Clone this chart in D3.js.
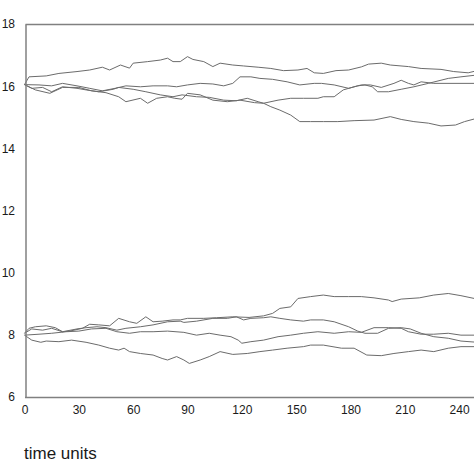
<!DOCTYPE html>
<html><head><meta charset="utf-8">
<script src="https://cdn.jsdelivr.net/npm/d3@7"></script>
<style>html,body{margin:0;padding:0;background:#fff;overflow:hidden}svg{display:block}</style>
</head><body>
<svg id="c" width="474" height="474"></svg>
<script>
// ---- data ----
const xTicks = [0,30,60,90,120,150,180,210,240];
const yTicks = [6,8,10,12,14,16,18];
const xLabel = "time units";

const upperA_t = [0,2.5,12,19,29,36,43,47,53,58,60,68,75,79,82,86,90,93,99,104,108,115,121,129,136,143,151,156,160,165,172,179,186,190,197,202,212,219,230,237,245,250];
const upperA_v = [16.05,16.3,16.33,16.41,16.47,16.52,16.61,16.52,16.68,16.58,16.74,16.79,16.84,16.9,16.79,16.79,16.95,16.86,16.79,16.63,16.74,16.68,16.65,16.61,16.57,16.5,16.52,16.57,16.43,16.41,16.5,16.52,16.62,16.71,16.74,16.68,16.63,16.57,16.54,16.47,16.43,16.5];

const upperB_t = [0,8,15,21,29,36,43,50,56,64,71,79,84,90,97,104,110,115,119,125,130,137,145,152,160,164,171,179,184,188,192,195,201,208,215,223,234,241,250];
const upperB_v = [16.05,16.04,16.01,16.09,16.01,15.93,15.85,15.93,16.01,15.98,16.01,16.01,15.98,16.04,16.09,16.07,16.01,16.09,16.3,16.3,16.25,16.22,16.14,16.04,16.09,16.09,16.04,15.93,16.01,16.04,15.98,15.82,15.82,15.9,15.98,16.09,16.25,16.3,16.36];

const upperC_t = [0,4,10,15,21,29,34,41,49,52,60,67,75,82,87,95,102,110,117,123,129,132,140,147,154,162,165,171,176,182,186,191,197,204,208,212,215,219,226,250];
const upperC_v = [16.05,15.93,15.96,15.82,15.98,15.93,15.88,15.82,15.9,15.96,15.9,15.82,15.72,15.66,15.72,15.66,15.64,15.55,15.53,15.61,15.5,15.45,15.55,15.61,15.61,15.61,15.66,15.66,15.88,15.98,16.04,16.04,15.96,16.09,16.19,16.09,16.04,16.14,16.09,16.09];

const upperD_t = [0,6,14,21,30,37,45,52,56,64,68,73,79,83,87,90,97,104,112,119,127,132,136,141,147,152,158,165,173,182,193,202,208,215,223,230,238,243,250];
const upperD_v = [16.05,15.88,15.77,15.96,15.96,15.85,15.79,15.66,15.5,15.61,15.45,15.61,15.66,15.61,15.58,15.77,15.72,15.55,15.5,15.55,15.47,15.45,15.34,15.23,15.07,14.86,14.86,14.86,14.86,14.89,14.91,15.02,14.93,14.86,14.81,14.72,14.75,14.86,14.97];

const lowerT_t = [0,2.5,6,12,17,21,25,32,36,41,47,52,58,62,67,71,76,82,86,90,99,106,115,124,132,137,141,147,151,158,165,171,179,186,193,201,203,208,218,226,234,241,250];
const lowerT_v = [8.05,8.21,8.26,8.29,8.23,8.1,8.12,8.21,8.34,8.32,8.29,8.53,8.42,8.37,8.58,8.42,8.44,8.48,8.48,8.53,8.53,8.55,8.58,8.56,8.61,8.69,8.85,8.9,9.17,9.23,9.28,9.23,9.23,9.23,9.19,9.12,9.07,9.15,9.19,9.28,9.33,9.26,9.15];

const lowerM1_t = [0,4,10,15,21,29,34,40,45,51,56,64,71,79,86,88,95,104,112,117,121,125,132,136,141,147,154,158,165,171,179,184,188,195,201,208,213,219,226,234,241,250];
const lowerM1_v = [8.05,8.19,8.15,8.21,8.1,8.19,8.23,8.26,8.23,8.15,8.21,8.26,8.32,8.42,8.44,8.4,8.44,8.53,8.53,8.58,8.48,8.53,8.55,8.58,8.53,8.48,8.44,8.48,8.48,8.42,8.26,8.12,8.05,8.05,8.21,8.23,8.19,8.05,7.94,7.89,7.8,7.76];

const lowerM2_t = [0,8,15,23,30,37,45,51,58,64,71,79,88,95,102,108,114,118,120,125,132,140,147,154,162,171,179,186,193,201,208,212,219,226,234,241,250];
const lowerM2_v = [7.99,8.02,8.05,8.1,8.12,8.19,8.21,8.1,8.05,8.1,8.1,8.12,8.08,7.99,8.05,7.99,7.94,7.83,7.73,7.78,7.83,7.94,7.99,8.05,8.1,8.05,8.1,8.08,8.23,8.23,8.21,8.1,8.02,8.02,8.05,7.99,7.99];

const lowerB_t = [0,4,9,12,19,26,34,41,47,52,55,58,64,71,76,79,84,88,91,97,102,108,115,123,130,137,145,154,158,165,175,182,189,197,204,212,219,226,234,241,250];
const lowerB_v = [7.99,7.83,7.76,7.8,7.78,7.83,7.76,7.67,7.57,7.51,7.57,7.46,7.4,7.35,7.24,7.19,7.3,7.19,7.08,7.19,7.3,7.46,7.37,7.4,7.46,7.51,7.57,7.62,7.67,7.67,7.57,7.57,7.35,7.33,7.4,7.46,7.51,7.46,7.57,7.62,7.62];

const seriesTimes  = [upperA_t, upperB_t, upperC_t, upperD_t, lowerT_t, lowerM1_t, lowerM2_t, lowerB_t];
const seriesValues = [upperA_v, upperB_v, upperC_v, upperD_v, lowerT_v, lowerM1_v, lowerM2_v, lowerB_v];

// ---- drawing ----
const svg = d3.select("#c");
const font = "'Liberation Sans', Arial, sans-serif";
const axisColor = "#808080";
const lineColor = "#6b6b6b";

const x = d3.scaleLinear().domain([0, 250]).range([24.5, 24.5 + 1.811 * 250]);
const y = d3.scaleLinear().domain([6, 18]).range([397, 24]);

const line = d3.line().x(d => x(d[0])).y(d => y(d[1]));

const plot = svg.append("g");
seriesTimes.forEach((ts, i) => {
  const pts = ts.map((t, j) => [t, seriesValues[i][j]]);
  plot.append("path").datum(pts)
    .attr("d", line).attr("fill", "none")
    .attr("stroke", lineColor).attr("stroke-width", 1)
    .attr("stroke-linejoin", "round");
});

// top border
svg.append("line").attr("x1", 25.5).attr("x2", 474).attr("y1", 24.5).attr("y2", 24.5)
  .attr("stroke", axisColor).attr("stroke-width", 1.5);

// y axis
const ya = svg.append("g").attr("transform", "translate(25.5,0)")
  .call(d3.axisLeft(y).tickValues(yTicks).tickSize(0).tickPadding(10.5).tickFormat(d3.format("d")));
ya.select(".domain").attr("stroke", axisColor).attr("stroke-width", 1.5);
ya.selectAll("text").attr("font-family", font).attr("font-size", 12).attr("fill", "#1a1a1a");

// x axis
const xa = svg.append("g").attr("transform", "translate(0,397)")
  .call(d3.axisBottom(x).tickValues(xTicks).tickSize(0).tickPadding(8.5).tickFormat(d3.format("d")));
xa.select(".domain").attr("stroke", axisColor).attr("stroke-width", 1.5);
xa.selectAll("text").attr("font-family", font).attr("font-size", 12).attr("fill", "#1a1a1a");

svg.append("text").attr("x", 24).attr("y", 459)
  .attr("font-family", font).attr("font-size", 17).attr("fill", "#1a1a1a")
  .text(xLabel);
</script>
</body></html>
